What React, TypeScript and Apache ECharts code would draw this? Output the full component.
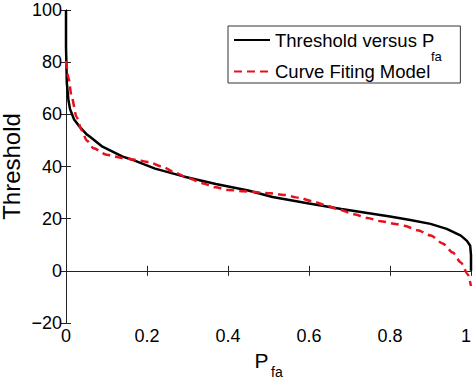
import React, { useEffect, useRef } from "react";
import * as echarts from "echarts";

// Threshold versus Pfa (measured curve)
const thresholdPfa = [0, 0, 0.001, 0.002, 0.006, 0.01, 0.014, 0.02, 0.035, 0.05, 0.06, 0.09, 0.14, 0.16, 0.22, 0.29, 0.37, 0.45, 0.51, 0.6, 0.68, 0.76, 0.8, 0.85, 0.9, 0.94, 0.975, 0.99, 0.998, 1, 1];
const thresholdValues = [100, 86, 79, 72, 65.5, 62, 60.4, 58, 55, 52.5, 51.3, 47.6, 43.8, 42.8, 39.2, 36.2, 33.3, 30.8, 28.3, 25.8, 23.7, 21.8, 20.8, 19.5, 18, 16.1, 13.5, 11.5, 9.6, 6, 0];

// Curve fitting model
const modelPfa = [0, 0.006, 0.014, 0.026, 0.039, 0.051, 0.068, 0.1, 0.138, 0.171, 0.204, 0.237, 0.27, 0.303, 0.336, 0.369, 0.402, 0.439, 0.505, 0.538, 0.575, 0.608, 0.641, 0.674, 0.711, 0.744, 0.777, 0.814, 0.835, 0.868, 0.901, 0.93, 0.955, 0.975, 0.992, 1];
const modelValues = [80.5, 74, 66.7, 59, 53.8, 50, 47, 44.5, 43.3, 42.6, 41.7, 40, 37.6, 35.5, 33.6, 32, 31, 30.5, 29.7, 29.1, 28, 26.7, 25.1, 23.5, 21.7, 20.3, 19, 18, 17.3, 15.6, 13.5, 10.5, 7, 3.2, -1.3, -5.8];

const seriesNames = ["Threshold versus Pfa", "Curve Fiting Model"];
const legendLabels = ["Threshold versus P", "Curve Fiting Model"];
const subscript = "fa";
const xTicks = { min: 0, max: 1, interval: 0.2 };
const yTicks = { min: -20, max: 100, interval: 20 };

const FONT = "Liberation Sans, Arial, Helvetica, sans-serif";

export default function App() {
  const ref = useRef<HTMLDivElement>(null);
  useEffect(() => {
    if (!ref.current) return;
    const chart = echarts.init(ref.current, null, { renderer: "svg" });
    const zip = (xs: number[], ys: number[]) => xs.map((x, i) => [x, ys[i]]);
    const axisLine = { show: true, lineStyle: { color: "#222", width: 1 } };
    const tick = { show: true, inside: true, length: 5, lineStyle: { color: "#222", width: 1 } };
    chart.setOption({
      animation: false,
      backgroundColor: "#fff",
      grid: { left: 66, right: 3, top: 10, bottom: 68, containLabel: false, outerBoundsMode: "none" },
      xAxis: [
        {
          type: "value",
          ...xTicks,
          position: "bottom",
          axisLine,
          axisTick: tick,
          splitLine: { show: false },
          axisLabel: { fontSize: 18, color: "#000", fontFamily: FONT, margin: 4, alignMaxLabel: "right" },
          name: "P",
          nameLocation: "middle",
          nameGap: 27,
          nameMoveOverlap: false,
          nameTextStyle: { fontSize: 21, color: "#000", fontFamily: FONT, align: "right" },
        },
        {
          type: "value",
          ...xTicks,
          position: "top",
          axisLine,
          axisTick: tick,
          splitLine: { show: false },
          axisLabel: { show: false },
        },
      ],
      yAxis: [
        {
          type: "value",
          ...yTicks,
          position: "left",
          axisLine,
          axisTick: tick,
          splitLine: { show: false },
          axisLabel: {
            fontSize: 18,
            color: "#000",
            fontFamily: FONT,
            margin: 4,
            formatter: (v: number) => (v < 0 ? "\u2212" + Math.abs(v) : String(v)),
          },
          name: "Threshold",
          nameLocation: "middle",
          nameGap: 43,
          nameMoveOverlap: false,
          nameTextStyle: { fontSize: 24, color: "#000", fontFamily: FONT, lineHeight: 24 },
        },
        {
          type: "value",
          ...yTicks,
          position: "right",
          axisLine,
          axisTick: tick,
          splitLine: { show: false },
          axisLabel: { show: false },
        },
      ],
      legend: {
        orient: "vertical",
        left: 228,
        top: 26,
        padding: [4.5, 26, 2, 5],
        itemGap: 12.5,
        itemWidth: 36,
        itemHeight: 20,
        borderColor: "#333",
        borderWidth: 1,
        backgroundColor: "#fff",
        data: seriesNames,
        itemStyle: { opacity: 0 },
        formatter: (name: string) => legendLabels[seriesNames.indexOf(name)],
        textStyle: { fontSize: 18.5, color: "#000", fontFamily: FONT },
      },
      graphic: [
        {
          type: "text",
          left: 431,
          top: 50,
          z: 100,
          style: { text: subscript, fontSize: 13, fill: "#000", font: `13px ${FONT}` },
        },
        {
          type: "text",
          left: 271,
          top: 365,
          z: 100,
          style: { text: subscript, fontSize: 14, fill: "#000", font: `14px ${FONT}` },
        },
      ],
      series: [
        {
          name: seriesNames[0],
          type: "line",
          xAxisIndex: 0,
          yAxisIndex: 0,
          data: zip(thresholdPfa, thresholdValues),
          symbol: "none",
          lineStyle: { color: "#000", width: 2.5, type: "solid" },
          itemStyle: { color: "#000" },
          z: 3,
        },
        {
          name: seriesNames[1],
          type: "line",
          xAxisIndex: 0,
          yAxisIndex: 0,
          data: zip(modelPfa, modelValues),
          symbol: "none",
          smooth: 0.25,
          smoothMonotone: "x",
          lineStyle: { color: "#e8101c", width: 2.5, type: [8, 5] },
          itemStyle: { color: "#e8101c" },
          z: 4,
        },
      ],
    });
    return () => chart.dispose();
  }, []);
  return <div ref={ref} style={{ position: "fixed", left: 0, top: 0, width: 474, height: 391 }} />;
}
